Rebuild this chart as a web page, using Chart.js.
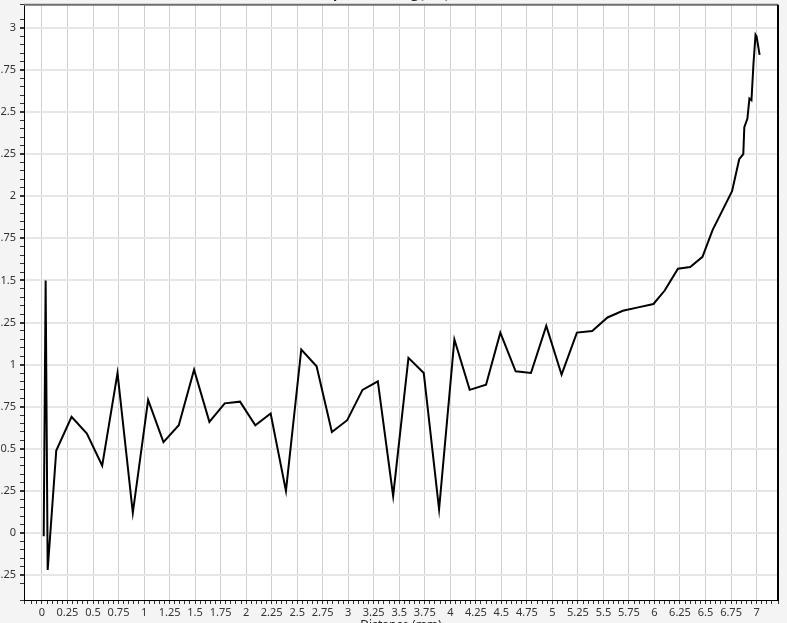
<!DOCTYPE html>
<html>
<head>
<meta charset="utf-8">
<script src="https://cdn.jsdelivr.net/npm/chart.js@4/dist/chart.umd.min.js"></script>
<style>
  html, body { margin: 0; padding: 0; background: #f4f4f4; overflow: hidden; width: 787px; height: 623px; }
  #wrap { position: absolute; left: -20px; top: -22px; width: 807px; height: 659px; }
</style>
</head>
<body>
<div id="wrap"><canvas id="chart"></canvas></div>
<script>
// values
const xValues = [0.017, 0.036, 0.056, 0.14, 0.29, 0.44, 0.59, 0.74, 0.89, 1.04, 1.19, 1.34, 1.49, 1.64, 1.79,
  1.94, 2.09, 2.24, 2.39, 2.54, 2.69, 2.84, 2.99, 3.14, 3.29, 3.44, 3.59, 3.74, 3.89, 4.04, 4.19, 4.35, 4.49,
  4.64, 4.79, 4.94, 5.09, 5.24, 5.39, 5.54, 5.69, 5.84, 5.99, 6.10, 6.23, 6.35, 6.47, 6.57, 6.76, 6.83, 6.87,
  6.88, 6.91, 6.93, 6.95, 6.97, 6.99, 7.0, 7.03];
const yValues = [-0.02, 1.50, -0.22, 0.49, 0.69, 0.59, 0.40, 0.95, 0.12, 0.79, 0.54, 0.64, 0.97, 0.66, 0.77,
  0.78, 0.64, 0.71, 0.25, 1.09, 0.99, 0.60, 0.67, 0.85, 0.90, 0.22, 1.04, 0.95, 0.14, 1.15, 0.85, 0.88, 1.19,
  0.96, 0.95, 1.23, 0.94, 1.19, 1.20, 1.28, 1.32, 1.34, 1.36, 1.44, 1.57, 1.58, 1.64, 1.80, 2.03, 2.22, 2.25,
  2.41, 2.46, 2.58, 2.57, 2.79, 2.96, 2.95, 2.84];
const majorStep = 0.25;
const minorStep = 0.05;

function isMajor(v) {
  const r = v / majorStep;
  return Math.abs(r - Math.round(r)) < 1e-6;
}
function fmt(v) {
  return String(Math.round(v * 100) / 100);
}

const points = xValues.map((x, i) => ({ x: x, y: yValues[i] }));

const frame = {
  id: 'frame',
  beforeDraw(chart) {
    const ctx = chart.ctx;
    const a = chart.chartArea;
    ctx.save();
    ctx.fillStyle = '#f4f4f4';
    ctx.fillRect(0, 0, chart.width, chart.height);
    ctx.fillStyle = '#ffffff';
    ctx.fillRect(a.left, a.top, a.right - a.left, a.bottom - a.top);
    ctx.restore();
  },
  afterDraw(chart) {
    const ctx = chart.ctx;
    const a = chart.chartArea;
    ctx.save();
    ctx.strokeStyle = '#6e6e6e';
    ctx.lineWidth = 2;
    ctx.beginPath();
    ctx.moveTo(a.left, a.top);
    ctx.lineTo(a.right, a.top);
    ctx.stroke();
    ctx.strokeStyle = '#000';
    ctx.beginPath();
    ctx.moveTo(a.right, a.top);
    ctx.lineTo(a.right, a.bottom);
    ctx.stroke();
    ctx.restore();
  }
};

const tickFont = { family: 'Noto Sans', size: 11 };

new Chart(document.getElementById('chart'), {
  type: 'scatter',
  data: {
    datasets: [{
      data: points,
      showLine: true,
      borderColor: '#000000',
      borderWidth: 2,
      pointRadius: 0,
      tension: 0,
      fill: false
    }]
  },
  options: {
    responsive: true,
    maintainAspectRatio: false,
    animation: false,
    layout: { padding: { left: 0, right: 9, top: 0, bottom: 0 } },
    plugins: {
      legend: { display: false },
      tooltip: { enabled: false },
      title: {
        display: true,
        text: 'Response vs log(t, s)',
        color: '#222',
        font: { family: 'Noto Sans', size: 14, weight: 'bold' },
        padding: { top: 8, bottom: 2 }
      }
    },
    scales: {
      x: {
        type: 'linear',
        min: -0.176,
        max: 7.21,
        afterFit: (scale) => { scale.height = 37; },
        border: { color: '#000', width: 1 },
        grid: {
          color: (c) => isMajor(c.tick.value) ? '#cfcfcf' : 'rgba(0,0,0,0)',
          lineWidth: 1,
          tickColor: '#333',
          tickLength: 4
        },
        ticks: {
          stepSize: minorStep,
          autoSkip: false,
          maxRotation: 0,
          padding: 2,
          color: '#333',
          font: tickFont,
          callback: (v) => isMajor(v) ? fmt(v) : ''
        },
        title: {
          display: true,
          text: 'Distance (mm)',
          color: '#222',
          font: { family: 'Noto Sans', size: 12 }
        }
      },
      y: {
        min: -0.398,
        max: 3.137,
        afterFit: (scale) => { scale.width = 44; },
        border: { color: '#000', width: 1 },
        grid: {
          color: (c) => isMajor(c.tick.value) ? '#e6e6e6' : 'rgba(0,0,0,0)',
          lineWidth: (c) => isMajor(c.tick.value) ? 2 : 1,
          tickColor: '#333',
          tickLength: 4
        },
        ticks: {
          stepSize: minorStep,
          autoSkip: false,
          padding: 4,
          color: '#333',
          font: tickFont,
          callback: (v) => isMajor(v) ? fmt(v) : ''
        }
      }
    }
  },
  plugins: [frame]
});
</script>
</body>
</html>
